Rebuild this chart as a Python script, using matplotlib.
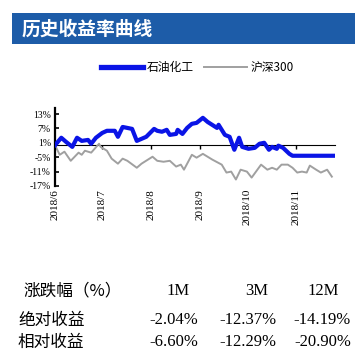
import numpy as np
import pandas as pd
import matplotlib
matplotlib.use("Agg")
import matplotlib.pyplot as plt
import matplotlib.dates as mdates
from matplotlib.patches import Rectangle

plt.rcParams['font.family'] = ['Noto Sans CJK SC', 'DejaVu Sans']

# 石油化工 cumulative return (%)
sector_dates = ['2018-06-01', '2018-06-05', '2018-06-08', '2018-06-12', '2018-06-15',
                '2018-06-18', '2018-06-22', '2018-06-24', '2018-06-27', '2018-07-01',
                '2018-07-04', '2018-07-09', '2018-07-11', '2018-07-14', '2018-07-17',
                '2018-07-20', '2018-07-23', '2018-07-29', '2018-08-03', '2018-08-05',
                '2018-08-08', '2018-08-11', '2018-08-13', '2018-08-17', '2018-08-18',
                '2018-08-21', '2018-08-24', '2018-08-27', '2018-08-30', '2018-09-03',
                '2018-09-06', '2018-09-12', '2018-09-13', '2018-09-15', '2018-09-17',
                '2018-09-20', '2018-09-23', '2018-09-26', '2018-09-28', '2018-10-02',
                '2018-10-06', '2018-10-09', '2018-10-12', '2018-10-15', '2018-10-17',
                '2018-10-20', '2018-10-21', '2018-10-24', '2018-10-28', '2018-10-30',
                '2018-11-10', '2018-11-25']
sector_ret = [0.0, 3.1, 1.4, -0.7, 3.1, 1.8, 2.2, 0.6, 3.1, 5.1,
              6.0, 6.0, 3.5, 7.6, 7.2, 6.8, 1.8, 3.5, 6.8, 6.0,
              5.6, 6.4, 4.3, 4.7, 6.4, 4.7, 7.2, 8.9, 9.3, 11.4,
              9.7, 7.2, 8.5, 6.4, 4.3, 3.5, -1.9, 3.1, -0.7, -1.5,
              -1.1, 0.6, 1.0, -1.9, -0.7, -1.5, -0.2, -1.1, -3.6, -4.4,
              -4.4, -4.4]

# 沪深300 cumulative return (%)
index_dates = ['2018-06-01', '2018-06-04', '2018-06-07', '2018-06-11', '2018-06-16',
               '2018-06-18', '2018-06-20', '2018-06-24', '2018-06-29', '2018-06-30',
               '2018-07-04', '2018-07-07', '2018-07-11', '2018-07-14', '2018-07-17',
               '2018-07-23', '2018-07-26', '2018-08-02', '2018-08-05', '2018-08-09',
               '2018-08-13', '2018-08-17', '2018-08-20', '2018-08-22', '2018-08-27',
               '2018-08-30', '2018-09-03', '2018-09-09', '2018-09-15', '2018-09-18',
               '2018-09-21', '2018-09-24', '2018-09-27', '2018-10-01', '2018-10-04',
               '2018-10-10', '2018-10-14', '2018-10-17', '2018-10-20', '2018-10-23',
               '2018-10-27', '2018-10-30', '2018-11-02', '2018-11-05', '2018-11-08',
               '2018-11-10', '2018-11-14', '2018-11-17', '2018-11-21', '2018-11-24']
index_ret = [0.0, -4.0, -2.7, -6.5, -3.1, -4.0, -2.3, -3.1, 0.6, -0.7,
             -2.3, -5.6, -7.7, -5.6, -6.5, -9.4, -7.7, -4.8, -6.5, -6.9,
             -6.5, -8.9, -8.1, -10.2, -4.0, -5.2, -3.6, -6.0, -8.1, -11.4,
             -11.0, -14.3, -10.2, -11.0, -13.5, -8.1, -10.2, -9.4, -10.2, -8.1,
             -8.1, -9.4, -11.4, -11.0, -11.4, -8.5, -10.2, -11.4, -10.2, -13.1]

y_ticks = [13, 7, 1, -5, -11, -17]
month_ticks = ['2018-06-01', '2018-07-01', '2018-08-01', '2018-09-01', '2018-10-01', '2018-11-01']
month_labels = ['2018/6', '2018/7', '2018/8', '2018/9', '2018/10', '2018/11']

table_header = ['涨跌幅（%）', '1M', '3M', '12M']
row_names = ['绝对收益', '相对收益']
abs_ret = ['-2.04%', '-12.37%', '-14.19%']
rel_ret = ['-6.60%', '-12.29%', '-20.90%']

W, H = 363, 358
fig = plt.figure(figsize=(W / 100, H / 100), dpi=100)

def fx(px):
    return px / W

def fy(py):
    return 1 - py / H

# title banner
fig.add_artist(Rectangle((fx(12), fy(44)), fx(343), 31 / H, transform=fig.transFigure,
                         facecolor='#1d5ca8', edgecolor='none'))
fig.text(fx(22), fy(29), '历史收益率曲线', color='white', fontsize=13.5,
         fontweight='bold', va='center', ha='left')

# chart
ymin, ymax = -17, 15.5
ax = fig.add_axes([fx(55), fy(186), fx(280), 78 / H])
ax.plot(pd.to_datetime(sector_dates), sector_ret, color='#0a14e6', lw=3.0,
        solid_joinstyle='round', label='石油化工', zorder=3)
ax.plot(pd.to_datetime(index_dates), index_ret, color='#a0a0a0', lw=1.4,
        label='沪深300', zorder=2)
ax.set_ylim(ymin, ymax)
ax.set_xlim(pd.Timestamp('2018-06-01'), pd.Timestamp('2018-11-26'))

for s in ['top', 'right', 'bottom']:
    ax.spines[s].set_visible(False)
ax.spines['left'].set_linewidth(1.6)
ax.set_yticks(y_ticks)
ax.set_yticklabels([f'{v}%' for v in y_ticks], family='Liberation Serif', fontsize=7)
ax.tick_params(axis='y', direction='in', length=3, width=1.2, pad=3)

tick_pos = pd.to_datetime(month_ticks)
ax.set_xticks(tick_pos)
ax.set_xticklabels(month_labels, rotation=90, family='Liberation Serif', fontsize=8,
                   va='top')
ax.tick_params(axis='x', length=0, pad=2)

# zero line carrying the month ticks
zero_frac = (0 - ymin) / (ymax - ymin)
sec = ax.secondary_xaxis(zero_frac)
sec.set_xticks(tick_pos)
sec.set_xticklabels([])
sec.tick_params(axis='x', direction='in', length=3, width=1.0)
sec.spines['bottom'].set_linewidth(1.5)

leg = fig.legend(handles=ax.get_lines(), loc='center', bbox_to_anchor=(fx(197), fy(68)),
                 ncol=2, frameon=False, fontsize=8.5, handlelength=3.6, columnspacing=0.9,
                 handletextpad=0.3)
leg.get_lines()[0].set_linewidth(3.8)

# return table
col_x = [fx(23), fx(178), fx(257), fx(323)]
fig.text(col_x[0], fy(291), table_header[0], fontsize=12, va='center', ha='left')
for x, lab in zip(col_x[1:], table_header[1:]):
    fig.text(x, fy(291), lab, fontsize=12, va='center', ha='center',
             family='Liberation Serif')
val_right = [fx(198), fx(276), fx(351)]
for row_y, name, vals in [(320, row_names[0], abs_ret), (342, row_names[1], rel_ret)]:
    fig.text(fx(18), fy(row_y), name, fontsize=12, va='center', ha='left')
    for x, v in zip(val_right, vals):
        fig.text(x, fy(row_y), v, fontsize=12, va='center', ha='right',
                 family='Liberation Serif')

fig.savefig('out.png', dpi=100)
